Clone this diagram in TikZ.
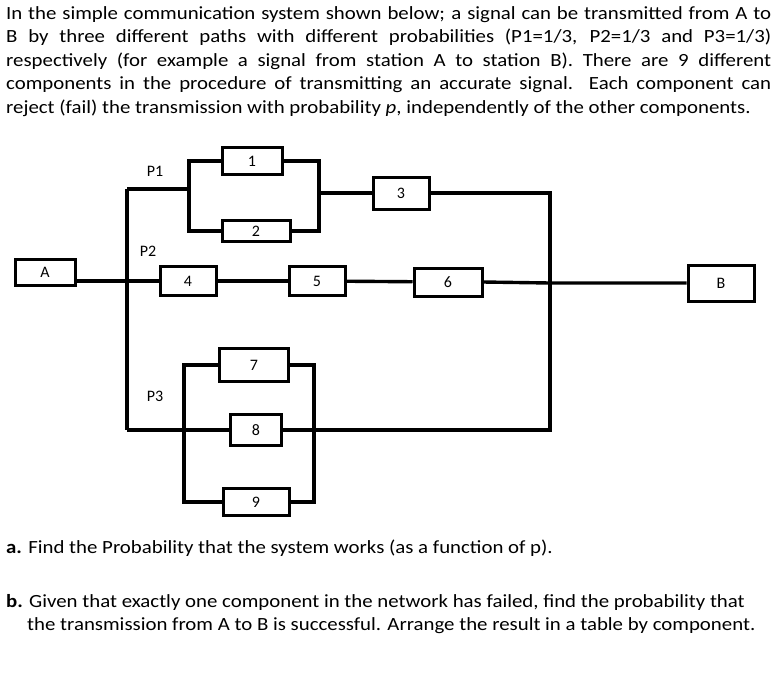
\documentclass[tikz,border=0pt]{standalone}
\usepackage{fontspec}
\setmainfont{Carlito}
\newfontfamily\txtfont[FakeStretch=1.12]{Carlito}
\begin{document}
\begin{tikzpicture}[x=1pt,y=-1pt,
  box/.style={draw,line width=3pt,inner sep=0pt,font=\fontsize{16}{18}\selectfont},
  wire/.style={line width=3.4pt},
  plab/.style={font=\fontsize{16}{18}\selectfont}]
\useasboundingbox (0,0) rectangle (783,673);
\node[anchor=north west,text width=765pt,align=justify,inner sep=0pt,
  font=\txtfont\fontsize{18.6}{23.5}\selectfont] (txt) at (6,6)
 {In the simple communication system shown below; a signal can be transmitted from A to\linebreak
 B by three different paths with different probabilities (P1=1/3, P2=1/3 and P3=1/3)\linebreak
 respectively (for example a signal from station A to station B). There are 9 different\linebreak
 components in the procedure of transmitting an accurate signal. Each component can\linebreak
 reject (fail) the transmission with probability \textit{p}, independently of the other components.};
\node[box,minimum width=60pt,minimum height=26pt] (A) at (45,272) {A};
\node[box,minimum width=56pt,minimum height=29pt] (b4) at (188,281) {4};
\node[box,minimum width=56pt,minimum height=29pt] (b5) at (317,281) {5};
\node[box,minimum width=68pt,minimum height=28pt] (b6) at (448,282) {6};
\node[box,minimum width=66pt,minimum height=36pt] (B) at (721,283) {B};
\node[box,minimum width=60pt,minimum height=27pt] (b1) at (252,161) {1};
\node[box,minimum width=68pt,minimum height=21pt] (b2) at (256,231) {2};
\node[box,minimum width=56pt,minimum height=32pt] (b3) at (401,193) {3};
\node[box,minimum width=69pt,minimum height=33pt] (b7) at (254,365) {7};
\node[box,minimum width=51pt,minimum height=31pt] (b8) at (256,430) {8};
\node[box,minimum width=66pt,minimum height=27pt] (b9) at (256,502) {9};
\node[plab] (p1) at (155,171) {P1};
\node[plab] (p2) at (148,251) {P2};
\node[plab] (p3) at (155,396) {P3};
\coordinate (J1) at (127,189);
\coordinate (J0) at (127,281);
\coordinate (J8) at (127,430);
\coordinate (L1a) at (189,161);
\coordinate (L1m) at (189,189);
\coordinate (L1b) at (189,231);
\coordinate (R1a) at (319,161);
\coordinate (R1m) at (319,193);
\coordinate (R1b) at (319,231);
\coordinate (Ra) at (550,193);
\coordinate (Rm) at (550,283);
\coordinate (Rb) at (550,430);
\coordinate (L3a) at (184,365);
\coordinate (L3b) at (184,502);
\coordinate (R3a) at (314,365);
\coordinate (R3b) at (314,502);
\draw[wire] (J1) -- (J8);
\draw[wire] (A.east |- J0) -- (J0) -- (b4.west);
\draw[wire] (b4) -- (b5);
\draw[wire] (b5) -- (b6);
\draw[wire] (b6.east) -- (Rm) -- (B.west);
\draw[wire] (J1) -- (L1m);
\draw[wire] (b1.west) -- (L1a) -- (L1b) -- (b2.west);
\draw[wire] (b1.east) -- (R1a) -- (R1b) -- (b2.east);
\draw[wire] (R1m) -- (b3.west);
\draw[wire] (b3.east) -- (Ra) -- (Rb) -- (b8.east);
\draw[wire] (J8) -- (b8.west);
\draw[wire] (b7.west) -- (L3a) -- (L3b) -- (b9.west);
\draw[wire] (b7.east) -- (R3a) -- (R3b) -- (b9.east);
\node[anchor=north west,inner sep=0pt,font=\txtfont\fontsize{18.6}{23.5}\selectfont] (qa) at (6,540)
 {\textbf{a.} Find the Probability that the system works (as a function of p).};
\node[anchor=north west,inner sep=0pt,align=left,font=\txtfont\fontsize{18.6}{23.5}\selectfont] (qb) at (6,594)
 {\textbf{b.} Given that exactly one component in the network has failed, find the probability that\\
 \hspace*{21pt}the transmission from A to B is successful. Arrange the result in a table by component.};
\end{tikzpicture}
\end{document}
